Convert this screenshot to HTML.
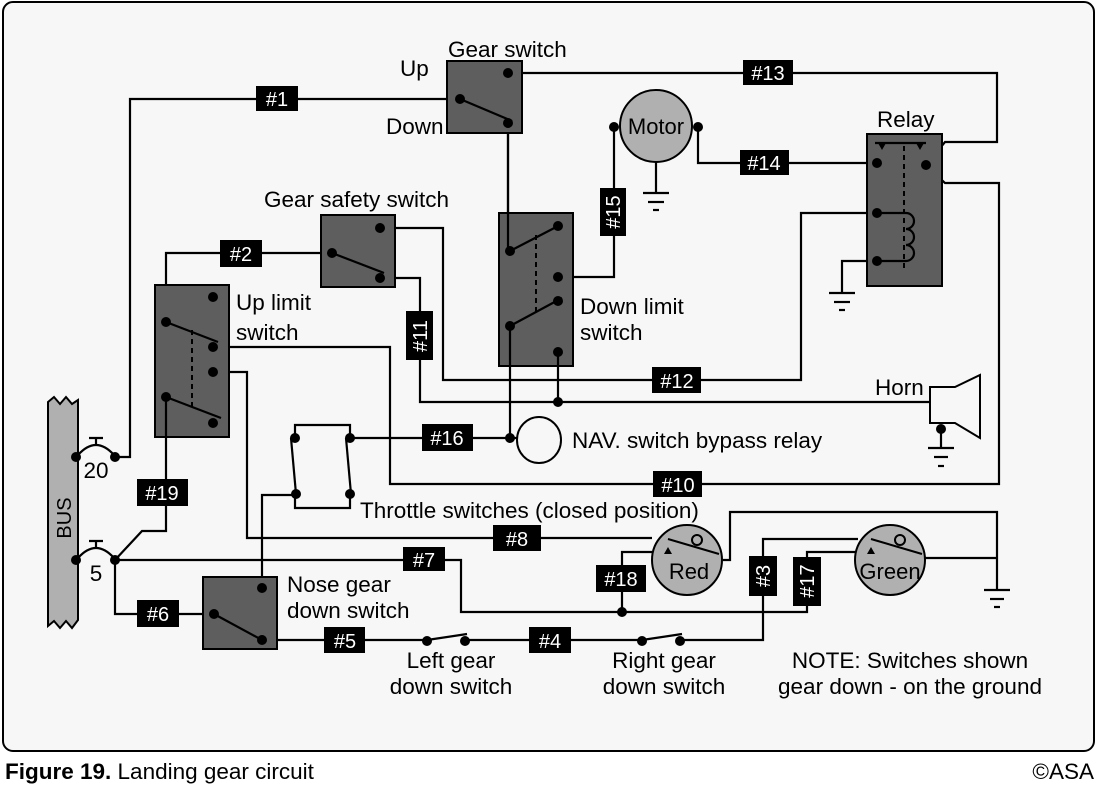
<!DOCTYPE html>
<html><head><meta charset="utf-8"><style>
html,body{margin:0;padding:0;background:#fff;}
svg{display:block;font-family:"Liberation Sans",Arial,sans-serif;}
</style></head><body>
<svg width="1098" height="786" viewBox="0 0 1098 786" xmlns="http://www.w3.org/2000/svg">
<rect x="3" y="2" width="1091" height="749" rx="10" fill="#f7f7f7" stroke="#000" stroke-width="2"/>
<g fill="none" stroke="#000" stroke-width="2.2">
<polyline points="115,457 130,457 130,99 460,99"/>
<polyline points="166,323 166,253 332,253"/>
<polyline points="166,397 166,531 142,531 115,560"/>
<polyline points="213,347 390,347 390,484 999,484 999,183 945,183 926,165"/>
<polyline points="926,165 945,142 997,142 997,73 508,73"/>
<polyline points="213,372 247,372 247,538 652,538"/>
<polyline points="380,228 443,228 443,380 801,380 801,213 877,213"/>
<polyline points="380,278 420,278 420,402 930,402"/>
<polyline points="842,293 842,261 877,261"/>
<polyline points="508,123 508,251"/>
<polyline points="510,326 510,438"/>
<polyline points="558,352 558,402"/>
<polyline points="558,277 614,277 614,127"/>
<polyline points="698,127 698,163 877,163"/>
<polyline points="656,162 656,193"/>
<polyline points="350,438 539,438"/>
<polyline points="115,560 461,560 461,612 807,612 807,552 857,552"/>
<polyline points="622,612 622,552 652,552"/>
<polyline points="115,560 115,614 214,614"/>
<polyline points="262,588 262,495 296,495"/>
<polyline points="262,640 427,640"/>
<polyline points="465,640 642,640"/>
<polyline points="680,640 763,640 763,539 858,539"/>
<polyline points="723,560 730,560 730,512 997,512 997,590"/>
<polyline points="925,558 997,558"/>
<polyline points="941,429 941,448"/>
<polyline points="295,438 295,425 350,425 350,438"/>
<polyline points="295,494 295,508 350,508 350,494"/>
<line x1="291" y1="438" x2="296" y2="494"/><line x1="346" y1="438" x2="351" y2="494"/>
<line x1="427" y1="640" x2="467" y2="634"/><line x1="642" y1="640" x2="682" y2="634"/>
<path d="M78,455 Q96,435 114,455"/><path d="M96,446 V438 M89,438 H103"/>
<path d="M78,558 Q96,538 114,558"/><path d="M96,549 V541 M89,541 H103"/>
</g>
<g stroke="#000" stroke-width="2.2">
<line x1="643" y1="193" x2="669" y2="193"/><line x1="648" y1="202" x2="664" y2="202"/><line x1="653" y1="210" x2="659" y2="210"/>
<line x1="829" y1="293" x2="855" y2="293"/><line x1="834" y1="302" x2="850" y2="302"/><line x1="839" y1="310" x2="845" y2="310"/>
<line x1="928" y1="448" x2="954" y2="448"/><line x1="934" y1="457" x2="948" y2="457"/><line x1="938" y1="466" x2="944" y2="466"/>
<line x1="984" y1="590" x2="1010" y2="590"/><line x1="990" y1="599" x2="1004" y2="599"/><line x1="994" y1="607" x2="1000" y2="607"/>
</g>
<path d="M48,402 L54,397 L60,404 L66,397 L72,404 L78,400 L78,620 L72,628 L66,621 L60,628 L54,621 L48,626 Z" fill="#b0b0b0" stroke="#000" stroke-width="2"/>
<text x="0" y="0" transform="translate(71,518) rotate(-90)" font-size="20" text-anchor="middle">BUS</text>
<g fill="#5e5e5e" stroke="#000" stroke-width="2">
<rect x="447" y="61" width="75" height="72"/>
<rect x="321" y="215" width="74" height="72"/>
<rect x="155" y="285" width="74" height="152"/>
<rect x="499" y="213" width="74" height="153"/>
<rect x="867" y="134" width="75" height="152"/>
<rect x="203" y="577" width="74" height="72"/>
</g>
<g fill="none" stroke="#000" stroke-width="2.2">
<line x1="460" y1="99" x2="512" y2="121"/>
<line x1="332" y1="253" x2="384" y2="273"/>
<line x1="166" y1="322" x2="218" y2="342"/><line x1="166" y1="397" x2="221" y2="418"/>
<line x1="510" y1="251" x2="562" y2="224"/><line x1="510" y1="326" x2="562" y2="298"/>
<line x1="214" y1="614" x2="262" y2="640"/>
<polyline points="508,133 508,251"/><polyline points="510,326 510,366"/><polyline points="558,352 558,366"/>
<polyline points="166,397 166,437"/>
<line x1="875" y1="143" x2="926" y2="143"/>
<path d="M877,213 H906 a8,8 0 0 1 0,16 a8,8 0 0 1 0,16 a8,8 0 0 1 0,16 H877"/>
</g>
<g stroke="#000" stroke-width="2" stroke-dasharray="5,4">
<line x1="192" y1="330" x2="192" y2="410"/><line x1="536" y1="235" x2="536" y2="315"/><line x1="904" y1="146" x2="904" y2="270"/>
</g>
<path d="M878,143 L886,143 L882,150 Z M916,143 L924,143 L920,150 Z" fill="#000"/>
<circle cx="656" cy="126" r="36" fill="#b0b0b0" stroke="#000" stroke-width="2"/>
<text x="656" y="134" font-size="22" text-anchor="middle">Motor</text>
<ellipse cx="539" cy="440" rx="22" ry="23" fill="#f7f7f7" stroke="#000" stroke-width="2"/>
<circle cx="687" cy="560" r="35" fill="#b0b0b0" stroke="#000" stroke-width="2"/>
<circle cx="890" cy="560" r="35" fill="#b0b0b0" stroke="#000" stroke-width="2"/>
<g fill="none" stroke="#000" stroke-width="2">
<line x1="668" y1="539" x2="719" y2="554"/><circle cx="697" cy="540" r="5" fill="#b0b0b0"/>
<line x1="871" y1="539" x2="922" y2="554"/><circle cx="900" cy="540" r="5" fill="#b0b0b0"/>
</g>
<path d="M664,554 L672,554 L668,547 Z M867,554 L875,554 L871,547 Z" fill="#000"/>
<text x="689" y="579" font-size="22" text-anchor="middle">Red</text>
<text x="890" y="579" font-size="22" text-anchor="middle">Green</text>
<path d="M930,387 H955 L980,375 V438 L955,423 H930 Z" fill="#f7f7f7" stroke="#000" stroke-width="2"/>
<g fill="#000">
<circle cx="76" cy="457" r="5"/><circle cx="115" cy="457" r="5"/><circle cx="76" cy="560" r="5"/><circle cx="115" cy="560" r="5"/>
<circle cx="508" cy="73" r="5"/><circle cx="460" cy="99" r="5"/><circle cx="508" cy="123" r="5"/>
<circle cx="380" cy="228" r="5"/><circle cx="332" cy="253" r="5"/><circle cx="380" cy="278" r="5"/>
<circle cx="213" cy="297" r="5"/><circle cx="166" cy="322" r="5"/><circle cx="213" cy="347" r="5"/><circle cx="213" cy="372" r="5"/><circle cx="166" cy="397" r="5"/><circle cx="213" cy="423" r="5"/>
<circle cx="558" cy="226" r="5"/><circle cx="510" cy="251" r="5"/><circle cx="558" cy="277" r="5"/><circle cx="558" cy="301" r="5"/><circle cx="510" cy="326" r="5"/><circle cx="558" cy="352" r="5"/>
<circle cx="877" cy="163" r="5"/><circle cx="926" cy="165" r="5"/><circle cx="877" cy="213" r="5"/><circle cx="877" cy="261" r="5"/>
<circle cx="614" cy="127" r="5"/><circle cx="698" cy="127" r="5"/>
<circle cx="558" cy="402" r="5"/><circle cx="510" cy="438" r="5"/><circle cx="941" cy="429" r="5"/>
<circle cx="295" cy="438" r="5"/><circle cx="350" cy="438" r="5"/><circle cx="296" cy="494" r="5"/><circle cx="350" cy="494" r="5"/>
<circle cx="262" cy="588" r="5"/><circle cx="214" cy="614" r="5"/><circle cx="262" cy="640" r="5"/>
<circle cx="427" cy="641" r="5"/><circle cx="465" cy="641" r="5"/><circle cx="642" cy="641" r="5"/><circle cx="680" cy="641" r="5"/>
<circle cx="622" cy="612" r="5"/>
</g>
<g fill="#000">
<rect x="256" y="86" width="42" height="25"/><rect x="743" y="60" width="50" height="25"/>
<rect x="220" y="240" width="42" height="27"/><rect x="740" y="150" width="49" height="25"/>
<rect x="600" y="188" width="26" height="48"/><rect x="406" y="311" width="27" height="49"/>
<rect x="652" y="367" width="49" height="26"/><rect x="422" y="424" width="51" height="27"/>
<rect x="653" y="471" width="49" height="26"/><rect x="137" y="479" width="51" height="27"/>
<rect x="493" y="525" width="48" height="26"/><rect x="403" y="547" width="42" height="24"/>
<rect x="596" y="565" width="50" height="27"/><rect x="749" y="556" width="28" height="40"/>
<rect x="793" y="557" width="28" height="49"/><rect x="137" y="600" width="42" height="27"/>
<rect x="324" y="627" width="41" height="26"/><rect x="529" y="627" width="42" height="26"/>
</g>
<g fill="#fff" font-size="20" text-anchor="middle">
<text x="277" y="106">#1</text><text x="768" y="80">#13</text>
<text x="241" y="261">#2</text><text x="764" y="170">#14</text>
<text x="677" y="388">#12</text><text x="447" y="445">#16</text>
<text x="678" y="492">#10</text><text x="162" y="500">#19</text>
<text x="517" y="546">#8</text><text x="424" y="567">#7</text>
<text x="621" y="586">#18</text><text x="158" y="621">#6</text>
<text x="345" y="648">#5</text><text x="550" y="648">#4</text>
<text transform="translate(620,212) rotate(-90)">#15</text>
<text transform="translate(427,336) rotate(-90)">#11</text>
<text transform="translate(770,576) rotate(-90)">#3</text>
<text transform="translate(814,581) rotate(-90)">#17</text>
</g>
<g fill="#000" font-size="22.5">
<text x="448" y="57">Gear switch</text>
<text x="400" y="76">Up</text>
<text x="386" y="134">Down</text>
<text x="264" y="207">Gear safety switch</text>
<text x="236" y="310">Up limit</text><text x="236" y="340">switch</text>
<text x="580" y="314">Down limit</text><text x="580" y="340">switch</text>
<text x="877" y="127">Relay</text>
<text x="875" y="395">Horn</text>
<text x="572" y="448">NAV. switch bypass relay</text>
<text x="96" y="478" text-anchor="middle">20</text>
<text x="96" y="581" text-anchor="middle">5</text>
<text x="360" y="518">Throttle switches (closed position)</text>
<text x="287" y="592">Nose gear</text><text x="287" y="618">down switch</text>
<text x="451" y="668" text-anchor="middle">Left gear</text><text x="451" y="694" text-anchor="middle">down switch</text>
<text x="664" y="668" text-anchor="middle">Right gear</text><text x="664" y="694" text-anchor="middle">down switch</text>
<text x="910" y="668" text-anchor="middle">NOTE: Switches shown</text><text x="910" y="694" text-anchor="middle">gear down - on the ground</text>
<text x="5" y="779"><tspan font-weight="bold">Figure 19.</tspan> Landing gear circuit</text>
<text x="1094" y="779" text-anchor="end">©ASA</text>
</g>
</svg>
</body></html>
